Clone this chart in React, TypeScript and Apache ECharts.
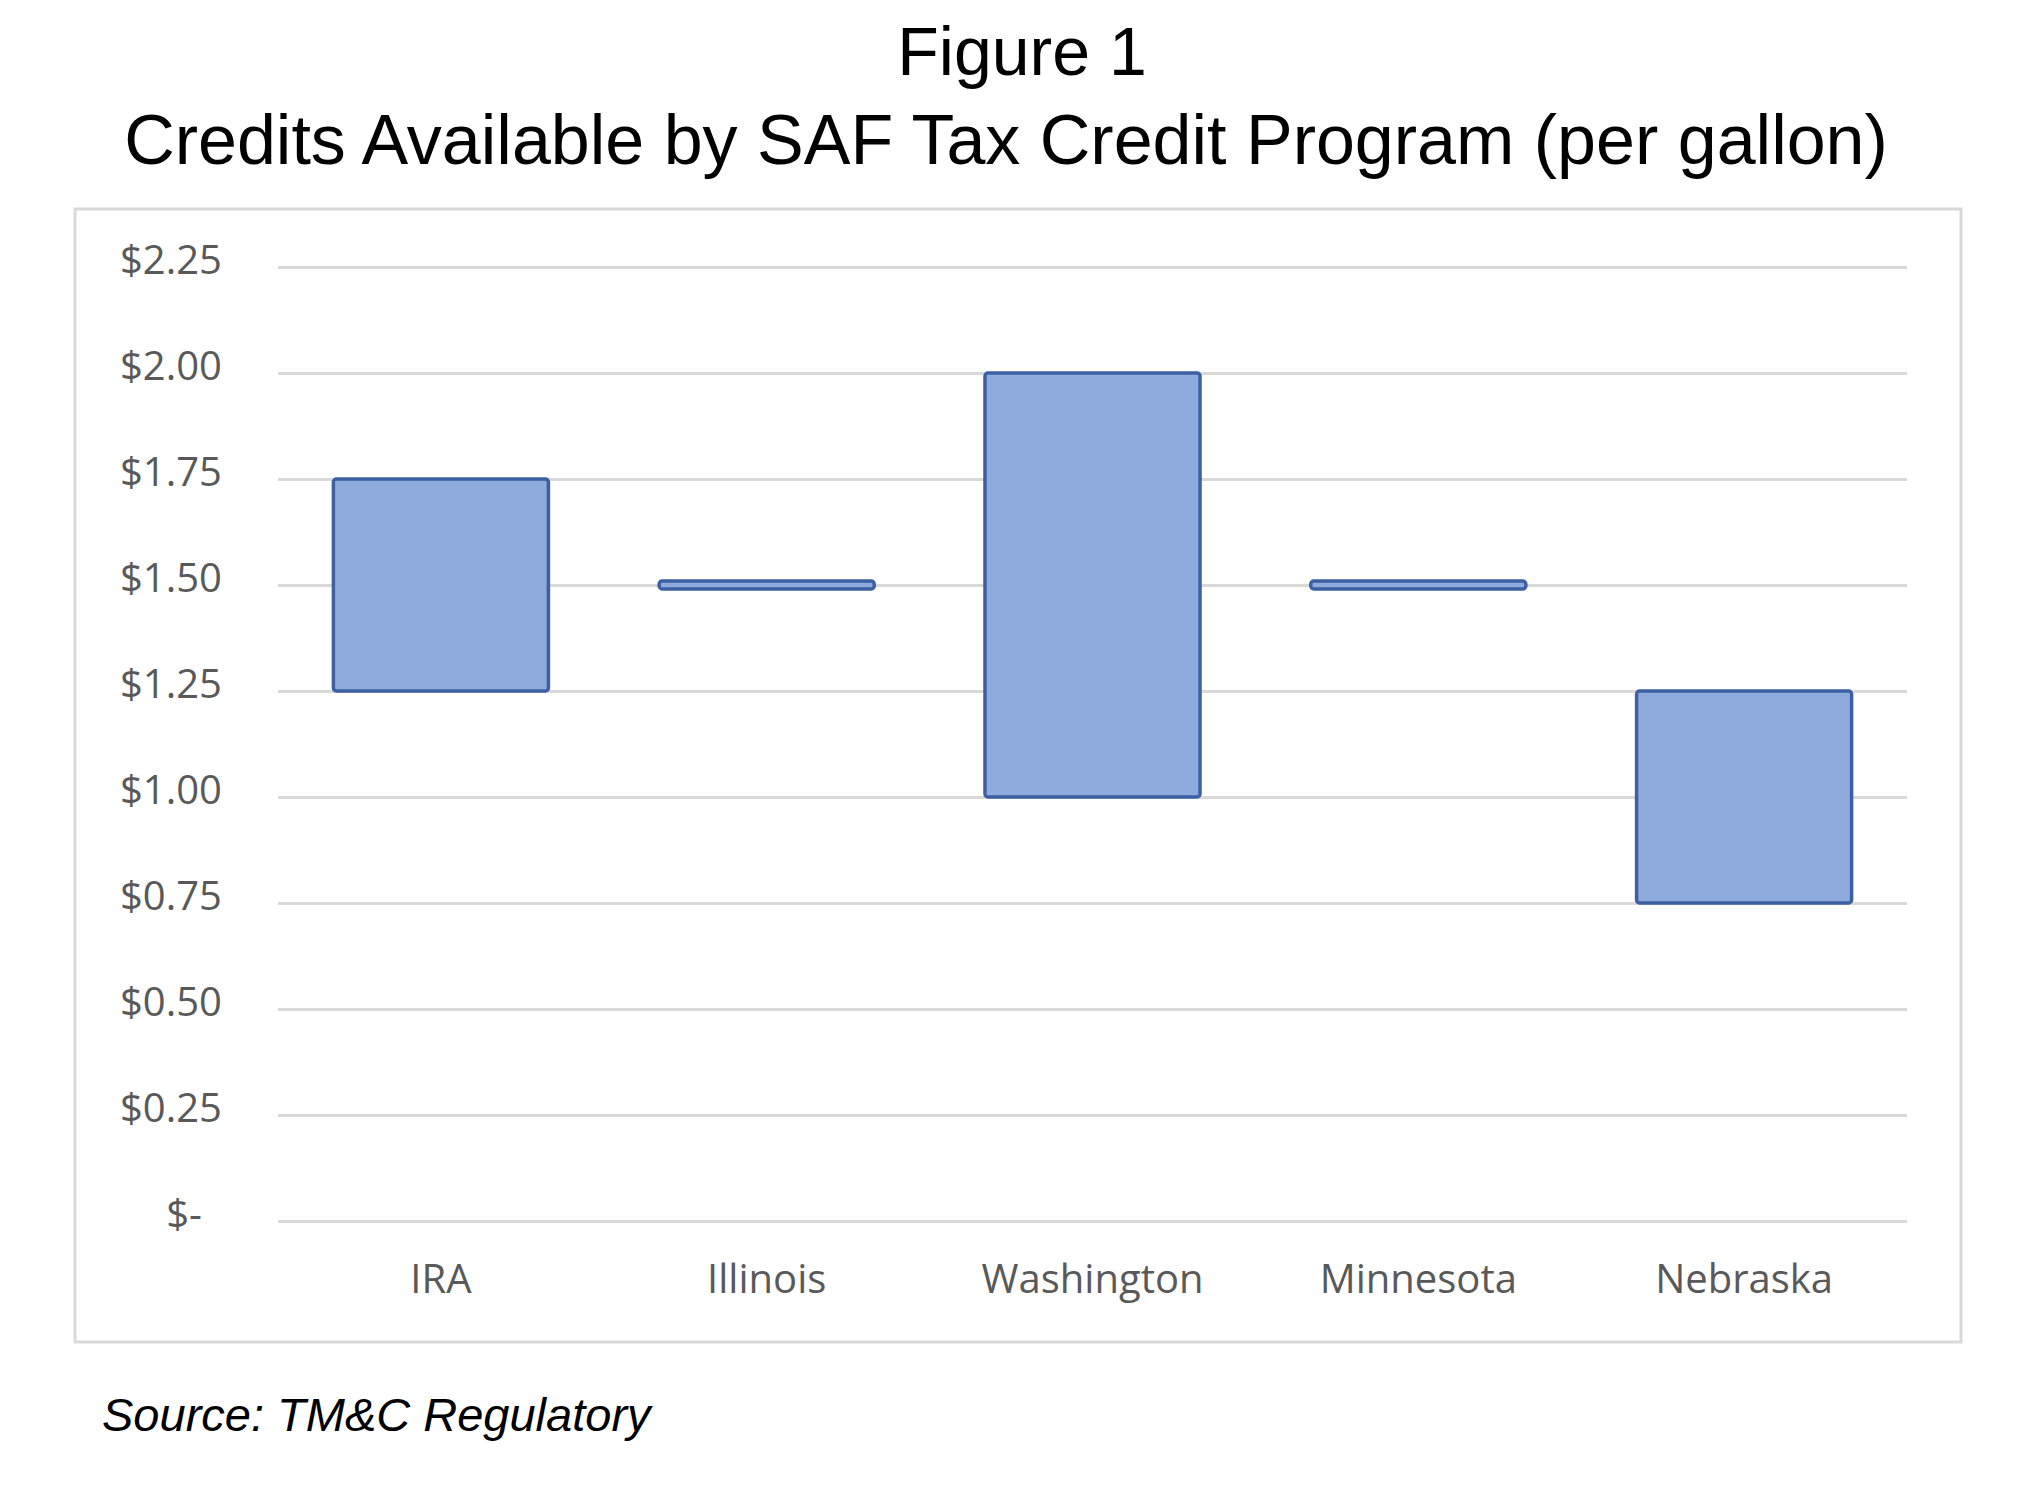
import React, { useEffect, useRef } from "react";
import * as echarts from "echarts";

const categories = ["IRA", "Illinois", "Washington", "Minnesota", "Nebraska"];
const lowValues = [1.25, 1.5, 1.0, 1.5, 0.75];
const highValues = [1.75, 1.5, 2.0, 1.5, 1.25];
const yTicks = [0, 0.25, 0.5, 0.75, 1.0, 1.25, 1.5, 1.75, 2.0, 2.25];

const titleLine1 = "Figure 1";
const titleLine2 = "Credits Available by SAF Tax Credit Program (per gallon)";
const sourceText = "Source: TM&C Regulatory";

export default function App() {
  const ref = useRef<HTMLDivElement>(null);

  useEffect(() => {
    if (!ref.current) return;
    const chart = echarts.init(ref.current, null, { renderer: "svg" });
    const data = categories.map((_, i) => [i, lowValues[i], highValues[i]]);
    const labelFont = "Open Sans";
    chart.setOption({
      animation: false,
      backgroundColor: "#ffffff",
      title: [
        {
          text: titleLine1,
          left: "center",
          top: 6,
          textStyle: {
            fontFamily: "Liberation Sans",
            fontSize: 68,
            fontWeight: "normal",
            color: "#000000",
            lineHeight: 80,
          },
        },
        {
          text: titleLine2,
          left: 1001,
          textAlign: "center",
          top: 95,
          textStyle: {
            fontFamily: "Liberation Sans",
            fontSize: 70,
            fontWeight: "normal",
            color: "#000000",
            lineHeight: 80,
          },
        },
        {
          text: sourceText,
          left: 97,
          top: 1381,
          textStyle: {
            fontFamily: "Liberation Sans",
            fontSize: 47,
            fontStyle: "italic",
            fontWeight: "normal",
            color: "#000000",
            lineHeight: 56,
          },
        },
      ],
      graphic: [
        {
          type: "rect",
          silent: true,
          z: -1,
          shape: { x: 75, y: 209, width: 1886, height: 1133 },
          style: { fill: "none", stroke: "#D9D9D9", lineWidth: 3 },
        },
      ],
      grid: { left: 278, right: 137, top: 267, bottom: 270 },
      xAxis: {
        type: "category",
        data: categories,
        boundaryGap: true,
        axisLine: { show: false },
        axisTick: { show: false },
        axisLabel: {
          fontFamily: labelFont,
          fontSize: 40,
          lineHeight: 40,
          color: "#595959",
          margin: 36,
        },
        splitLine: { show: false },
      },
      yAxis: {
        type: "value",
        min: 0,
        max: yTicks[yTicks.length - 1],
        interval: 0.25,
        axisLine: { show: false },
        axisTick: { show: false },
        splitLine: { lineStyle: { color: "#D9D9D9", width: 3 } },
        axisLabel: {
          fontFamily: labelFont,
          fontSize: 40,
          color: "#595959",
          margin: 56,
          padding: [0, 0, 18, 0],
          formatter: (v: number) => (v === 0 ? "{z|$-}" : "$" + v.toFixed(2)),
          rich: {
            z: {
              fontFamily: labelFont,
              fontSize: 40,
              color: "#595959",
              padding: [0, 20, 0, 0],
            },
          },
        },
      },
      series: [
        {
          type: "custom",
          data,
          encode: { x: 0, y: [1, 2] },
          renderItem: (params: any, api: any) => {
            const idx = api.value(0);
            const lo = api.value(1);
            const hi = api.value(2);
            const pLo = api.coord([idx, lo]);
            const pHi = api.coord([idx, hi]);
            const w = api.size([1, 0])[0] * 0.66;
            let top = pHi[1];
            let h = pLo[1] - pHi[1];
            if (h < 8) {
              top = (pLo[1] + pHi[1]) / 2 - 4;
              h = 8;
            }
            return {
              type: "rect",
              shape: { x: pLo[0] - w / 2, y: top, width: w, height: h, r: 3 },
              style: { fill: "#8FAADC", stroke: "#3C60A3", lineWidth: 3.5 },
            };
          },
        },
      ],
    });
    return () => chart.dispose();
  }, []);

  return (
    <div
      ref={ref}
      style={{ position: "fixed", left: 0, top: 0, width: 2044, height: 1491 }}
    />
  );
}
